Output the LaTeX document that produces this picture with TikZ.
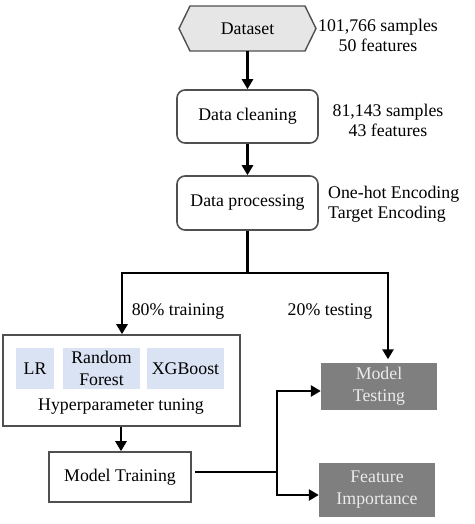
\documentclass[tikz,border=0pt]{standalone}
\usepackage{fontspec}
\setmainfont{Liberation Serif}
\usetikzlibrary{arrows.meta,calc}
\definecolor{dsgray}{HTML}{E6E6E6}
\definecolor{darkfill}{HTML}{7F7F7F}
\definecolor{lblue}{HTML}{DAE3F3}
\definecolor{bordergray}{HTML}{505050}
\begin{document}
\begin{tikzpicture}[x=1pt,y=-1pt,
  font=\fontsize{17.8}{20}\selectfont,
  conn/.style={line width=2.8pt,-{Triangle[length=10pt,width=11pt]}},
  plain/.style={line width=2.8pt},
  roundbox/.style={draw=bordergray,line width=1.6pt,rounded corners=8pt,fill=white,inner sep=0pt},
  sqbox/.style={draw=bordergray,line width=1.6pt,fill=white,inner sep=0pt},
  algbox/.style={fill=lblue,inner sep=0pt,align=center},
  darkbox/.style={fill=darkfill,text=white!92!black,inner sep=0pt,align=center},
  note/.style={align=center,inner sep=0pt}]
\useasboundingbox (0,0) rectangle (474,524);
% Dataset hexagon
\draw[draw=bordergray,line width=1.4pt,fill=dsgray] (179,28.5) -- (190,6) -- (305,6) -- (316,28.5) -- (305,51) -- (190,51) -- cycle;
\node[inner sep=0pt,minimum width=137pt,minimum height=45pt] (ds) at (247.5,28.5) {Dataset};
\node[note] (dsn) at (378,35) {101,766 samples\\50 features};
% Data cleaning
\node[roundbox,minimum width=141pt,minimum height=53pt] (dc) at (247.5,116.5) {Data cleaning};
\node[note] (dcn) at (388,120) {81,143 samples\\43 features};
% Data processing
\node[roundbox,minimum width=141pt,minimum height=54pt] (dp) at (247.5,203) {Data processing};
\node[note,align=left,anchor=west] (dpn) at (328,204) {One-hot Encoding\\Target Encoding};
% Hyperparameter box
\node[sqbox,minimum width=237pt,minimum height=91pt] (hp) at (121.5,380.5) {};
\node[algbox,minimum width=38pt,minimum height=41pt] (lr) at (35,368.5) {LR};
\node[algbox,minimum width=77pt,minimum height=41pt] (rf) at (101.5,368.5) {Random\\[2pt]Forest};
\node[algbox,minimum width=77pt,minimum height=41pt] (xg) at (185.5,368.5) {XGBoost};
\node[inner sep=0pt] (hpt) at (121,407) {Hyperparameter tuning};
% Model training
\node[sqbox,minimum width=142pt,minimum height=50pt] (mt) at (120,477) {Model Training};
% Output boxes
\node[darkbox,minimum width=116pt,minimum height=47pt] (mte) at (379,386) {Model\\[2pt]Testing};
\node[darkbox,minimum width=116pt,minimum height=54pt] (fi) at (377,490) {Feature\\[2pt]Importance};
% Split coordinates
\coordinate (split) at (247.5,273);
\coordinate (sl) at (122,273);
\coordinate (sr) at (388,273);
\coordinate (br) at (277,472);
% Connectors
\draw[conn] (ds.south) -- (dc.north);
\draw[conn] (dc.south) -- (dp.north);
\draw[plain] (dp.south) -- (split);
\draw[conn] (sl) -- (sl |- hp.north);
\draw[conn] (sr) -- ($(sr |- mte.north)+(0,-3)$);
\draw[plain,line cap=rect] (sl) -- (sr);
\node[inner sep=0pt] (l80) at (178,311) {80\% training};
\node[inner sep=0pt] (l20) at (330,311) {20\% testing};
\draw[conn] (hp.south -| 121,0) -- (mt.north -| 121,0);
\draw[plain] ($(mt.east)+(3,-5)$) -- (br);
\draw[conn] (br) |- (mte.west |- 0,391);
\draw[conn] (br) |- (fi.west |- 0,495);
\end{tikzpicture}
\end{document}
